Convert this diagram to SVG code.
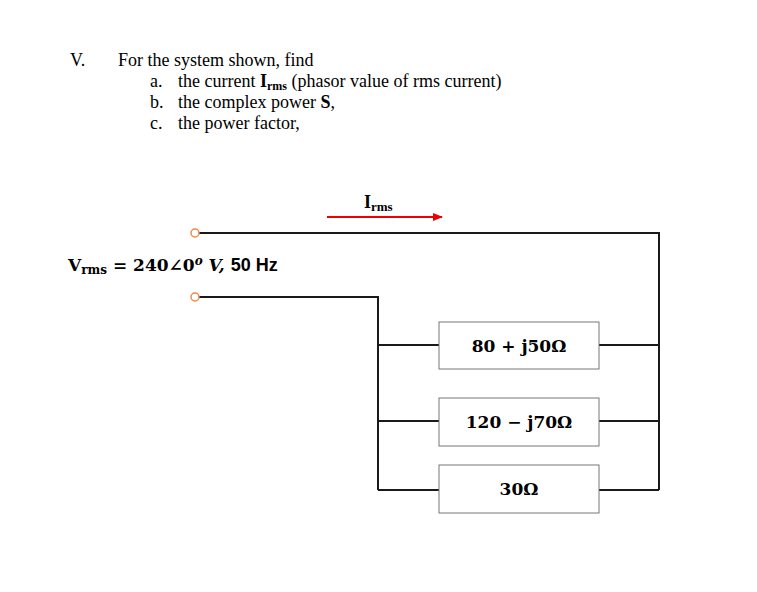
<svg xmlns="http://www.w3.org/2000/svg" width="757" height="592" viewBox="0 0 757 592">
<style>
.t{font-family:"Liberation Serif",serif;font-size:18px;fill:#000}
.w{stroke:#1a1a1a;stroke-width:2;fill:none}
.box{fill:#fff;stroke:#777;stroke-width:1}
.lb{font-family:"DejaVu Serif",serif;font-size:17px;font-weight:bold;text-anchor:middle}
.term{fill:#fff;stroke:#f08a4b;stroke-width:1.5}
</style>
<defs><marker id="ar" markerWidth="10" markerHeight="8" refX="9" refY="4" orient="auto" markerUnits="userSpaceOnUse"><path d="M0,0L10,4L0,8z" fill="#e00"/></marker></defs>
<rect width="757" height="592" fill="#fff"/>
<text class="t" x="70" y="66">V.</text>
<text class="t" x="118" y="66">For the system shown, find</text>
<text class="t" x="150" y="87">a.</text><text class="t" x="178" y="87">the current <tspan font-weight="bold">I<tspan font-size="12" dy="3">rms</tspan></tspan><tspan dy="-3"> (phasor value of rms current)</tspan></text>
<text class="t" x="150" y="108">b.</text><text class="t" x="178" y="108">the complex power <tspan font-weight="bold">S</tspan>,</text>
<text class="t" x="150" y="129">c.</text><text class="t" x="178" y="129">the power factor,</text>
<g id="connectors">
<path class="w" d="M199,233H659V490"/>
<path class="w" d="M199,297H378V490"/>
<path class="w" d="M378,345H439M599,345H659M378,421H439M599,421H659M378,490H439M599,490H659"/>
<line x1="327" y1="217" x2="442" y2="217" stroke="#e00" stroke-width="2" marker-end="url(#ar)"/>
</g>
<g id="irms"><text x="364" y="208" font-family="Liberation Serif,serif" font-weight="bold" font-size="18">I<tspan font-size="13" dy="3">rms</tspan></text></g>
<g id="source">
<circle class="term" cx="195" cy="233" r="4"/>
<circle class="term" cx="195" cy="297" r="4"/>
<text x="68" y="271" font-family="DejaVu Serif,serif" font-weight="bold" font-size="17">V<tspan font-size="12" dy="3">rms</tspan><tspan dy="-3"> = 240∠0</tspan><tspan font-style="italic" font-size="12" dy="-6">o</tspan><tspan dy="6" font-style="italic"> V, </tspan><tspan font-family="Liberation Sans,sans-serif" font-size="18">50 Hz</tspan></text>
</g>
<g id="z1"><rect class="box" x="439" y="322" width="160" height="47"/><text class="lb" x="519" y="352">80 + j50Ω</text></g>
<g id="z2"><rect class="box" x="439" y="398" width="160" height="48"/><text class="lb" x="519" y="428">120 − j70Ω</text></g>
<g id="z3"><rect class="box" x="439" y="465" width="160" height="48"/><text class="lb" x="519" y="495">30Ω</text></g>
</svg>
